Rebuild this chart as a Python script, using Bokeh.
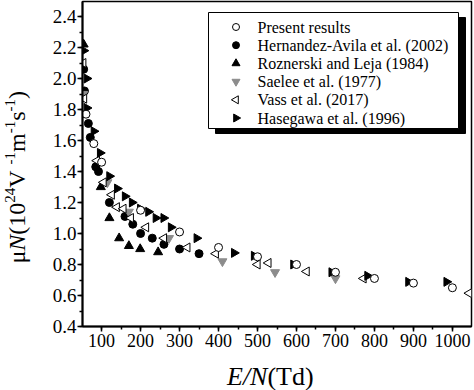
import math
from bokeh.plotting import figure
from bokeh.models import Range1d, SingleIntervalTicker, PrintfTickFormatter
from bokeh.layouts import row, column
from bokeh.core.properties import value
from bokeh.embed import file_html
from bokeh.resources import INLINE

# ---------------- data ----------------
present_x = [60, 80, 100, 200, 300, 400, 500, 600, 700, 800, 900, 1000]
present_y = [1.77, 1.58, 1.46, 1.15, 1.01, 0.91, 0.85, 0.80, 0.75, 0.71, 0.68, 0.65]

hernandez_x = [54, 56, 66, 71, 85, 92, 120, 160, 180, 200, 230, 260, 300, 350]
hernandez_y = [2.06, 1.92, 1.71, 1.62, 1.43, 1.40, 1.20, 1.11, 1.06, 1.00, 0.97, 0.93, 0.90, 0.87]

roznerski_x = [54, 98, 120, 145, 170, 199, 245]
roznerski_y = [2.22, 1.30, 1.10, 0.97, 0.92, 0.90, 0.88]

saelee_x = [53, 115, 170, 273, 410, 545, 700]
saelee_y = [1.90, 1.33, 1.14, 0.97, 0.82, 0.75, 0.71]

vass_x = [53, 55, 88, 105, 126, 139, 156, 175, 214, 260, 320, 393, 500, 528, 626, 772, 1043]
vass_y = [2.10, 1.87, 1.47, 1.33, 1.25, 1.17, 1.16, 1.10, 1.04, 0.97, 0.91, 0.87, 0.80, 0.81, 0.755, 0.71, 0.615]

hasegawa_x = [54, 62, 62, 80, 96, 120, 140, 160, 178, 199, 220, 239, 259, 278, 344, 440, 491, 592, 690, 782, 887, 985]
hasegawa_y = [2.18, 2.00, 1.81, 1.66, 1.52, 1.37, 1.29, 1.24, 1.20, 1.16, 1.14, 1.10, 1.10, 1.04, 0.97, 0.875, 0.856, 0.80, 0.75, 0.727, 0.688, 0.688]

labels = ["Present results", "Hernandez-Avila et al. (2002)", "Roznerski and Leja (1984)",
          "Saelee et al. (1977)", "Vass et al. (2017)", "Hasegawa et al. (1996)"]

x_start, x_end = 51, 1049
y_start, y_end = 0.4, 2.497

FONT = "Liberation Serif"
GRAY = "#8c8c8c"

# marker styles per series: (marker, angle, size, fill, line)
styles = [
    ("circle", 0.0, 8, "white", "black"),             # present
    ("circle", 0.0, 8, "black", "black"),             # Hernandez-Avila
    ("triangle", 0.0, 9, "black", "black"),           # Roznerski
    ("inverted_triangle", 0.0, 9, GRAY, GRAY),        # Saelee
    ("triangle", math.pi / 2, 9, "white", "black"),   # Vass (left)
    ("triangle", -math.pi / 2, 9, "black", "black"),  # Hasegawa (right)
]
series = [(present_x, present_y), (hernandez_x, hernandez_y), (roznerski_x, roznerski_y),
          (saelee_x, saelee_y), (vass_x, vass_y), (hasegawa_x, hasegawa_y)]

# ---------------- layout sizes ----------------
TOTAL_W, TOTAL_H = 474, 390
YT_W = 40                  # strip for the y title
XT_H = 34                  # strip for the x title
PW, PH = TOTAL_W - YT_W, TOTAL_H - XT_H
BL, BR, BT, BB = 42, 3, 1, 30
FW, FH = PW - BL - BR, PH - BT - BB

p = figure(width=PW, height=PH, output_backend="svg", toolbar_location=None,
           x_range=Range1d(x_start, x_end), y_range=Range1d(y_start, y_end),
           min_border_left=BL, min_border_right=BR, min_border_top=BT, min_border_bottom=BB)
p.grid.visible = False
p.outline_line_color = "black"
p.outline_line_width = 1.5
p.background_fill_color = "white"
p.border_fill_color = "white"

for ax in (p.xaxis[0], p.yaxis[0]):
    ax.axis_line_width = 2
    ax.axis_line_color = "black"
    ax.major_tick_line_color = "black"
    ax.minor_tick_line_color = "black"
    ax.major_tick_line_width = 1.5
    ax.minor_tick_line_width = 1.5
    ax.major_tick_out = 5
    ax.major_tick_in = 0
    ax.minor_tick_out = 3
    ax.minor_tick_in = 0
    ax.major_label_text_font = FONT
    ax.major_label_text_color = "black"

p.xaxis[0].major_label_text_font_size = "18px"
p.yaxis[0].major_label_text_font_size = "19px"
p.xaxis[0].major_label_standoff = 2
p.yaxis[0].major_label_standoff = 1
p.xaxis[0].ticker = SingleIntervalTicker(interval=100, num_minor_ticks=2)
p.yaxis[0].ticker = SingleIntervalTicker(interval=0.2, num_minor_ticks=2)
p.yaxis[0].formatter = PrintfTickFormatter(format="%.1f")


def px2x(px):
    return x_start + px * (x_end - x_start) / FW


def px2y(py):
    return y_end - py * (y_end - y_start) / FH


# ---------------- legend box (frame pixels) with shadow ----------------
LEG_L, LEG_T, LEG_R, LEG_B = 126, 11, 376, 127
SH_DX, SH_DY = 7, 5
ROW0, ROW_H = 25.5, 18.2
SYM_X, TXT_X = 153.5, 175

p.quad(left=[px2x(LEG_L + SH_DX)], right=[px2x(LEG_R + SH_DX)],
       top=[px2y(LEG_T + SH_DY)], bottom=[px2y(LEG_B + SH_DY)],
       fill_color="black", line_color="black")
p.quad(left=[px2x(LEG_L)], right=[px2x(LEG_R)], top=[px2y(LEG_T)], bottom=[px2y(LEG_B)],
       fill_color="white", line_color="black", line_width=1)

# ---------------- series ----------------
draw_order = [1, 2, 3, 4, 5, 0]
for i in draw_order:
    mk, ang, sz, fc, lc = styles[i]
    xs, ys = series[i]
    p.scatter(xs, ys, marker=mk, angle=ang, size=sz, fill_color=fc, line_color=lc,
              line_width=1)

# legend entries
for i, lab in enumerate(labels):
    mk, ang, sz, fc, lc = styles[i]
    yy = px2y(ROW0 + i * ROW_H)
    p.scatter([px2x(SYM_X)], [yy], marker=mk, angle=ang, size=sz - 1, fill_color=fc,
              line_color=lc, line_width=1)
    p.text(x=[px2x(TXT_X)], y=[yy], text=[lab], text_font=value(FONT), text_font_size="16px",
           text_align="left", text_baseline="middle", text_color="black")

# ---------------- x title strip ----------------
px_t = figure(width=PW, height=XT_H, output_backend="svg", toolbar_location=None,
              x_range=Range1d(0, PW), y_range=Range1d(0, XT_H),
              x_axis_location=None, y_axis_location=None, min_border=0,
              outline_line_color=None)
px_t.grid.visible = False
XT_FS = 26
XT_SPLIT, XT_MID = 205, 14.5
w_en = (0.611 + 0.278 + 0.667) * XT_FS
w_td = (0.333 + 0.611 + 0.5 + 0.333) * XT_FS
px_t.text(x=[XT_SPLIT - w_en / 2 - 1], y=[XT_MID], text=["E/N"], text_font=value(FONT),
          text_font_size=f"{XT_FS}px", text_font_style="italic", text_align="center",
          text_baseline="middle", text_color="black")
px_t.text(x=[XT_SPLIT + w_td / 2 + 4], y=[XT_MID], text=["(Td)"], text_font=value(FONT),
          text_font_size=f"{XT_FS}px", text_align="center", text_baseline="middle",
          text_color="black")

# ---------------- y title strip (rotated, with superscripts) ----------------
py_t = figure(width=YT_W, height=TOTAL_H, output_backend="svg", toolbar_location=None,
              x_range=Range1d(0, YT_W), y_range=Range1d(0, TOTAL_H),
              x_axis_location=None, y_axis_location=None, min_border=0,
              outline_line_color=None)
py_t.grid.visible = False

# approximate Times advance widths (em)
ADV = {"\u03bc": 0.53, "N": 0.667, "(": 0.333, ")": 0.333, "0": 0.5, "1": 0.5, "2": 0.5,
       "4": 0.5, " ": 0.25, "V": 0.722, "m": 0.778, "s": 0.389, "-": 0.333}
MAIN, SUP = 24, 15
pieces = [("\u03bc", MAIN, "normal", 0), ("N", MAIN, "italic", 0), ("(10", MAIN, "normal", 0),
          ("24", SUP, "normal", 1), (" V", MAIN, "normal", 0), ("-1", SUP, "normal", 1),
          ("m", MAIN, "normal", 0), ("-1", SUP, "normal", 1), ("s", MAIN, "normal", 0),
          ("-1", SUP, "normal", 1), (")", MAIN, "normal", 0)]
YT_BASE_X, YT_START, SUP_RAISE = 25, 127, 10
pos = YT_START
for txt, fs, style, sup in pieces:
    w = sum(ADV.get(c, 0.5) for c in txt) * fs
    mid_x = YT_BASE_X - SUP_RAISE * sup - 0.3375 * fs
    py_t.text(x=[mid_x], y=[pos + w / 2], text=[txt], angle=math.pi / 2,
              text_font=value(FONT), text_font_size=f"{fs}px", text_font_style=style,
              text_align="center", text_baseline="middle", text_color="black")
    pos += w

layout = row(py_t, column(p, px_t))
open("out.html", "w").write(file_html(layout, INLINE))
